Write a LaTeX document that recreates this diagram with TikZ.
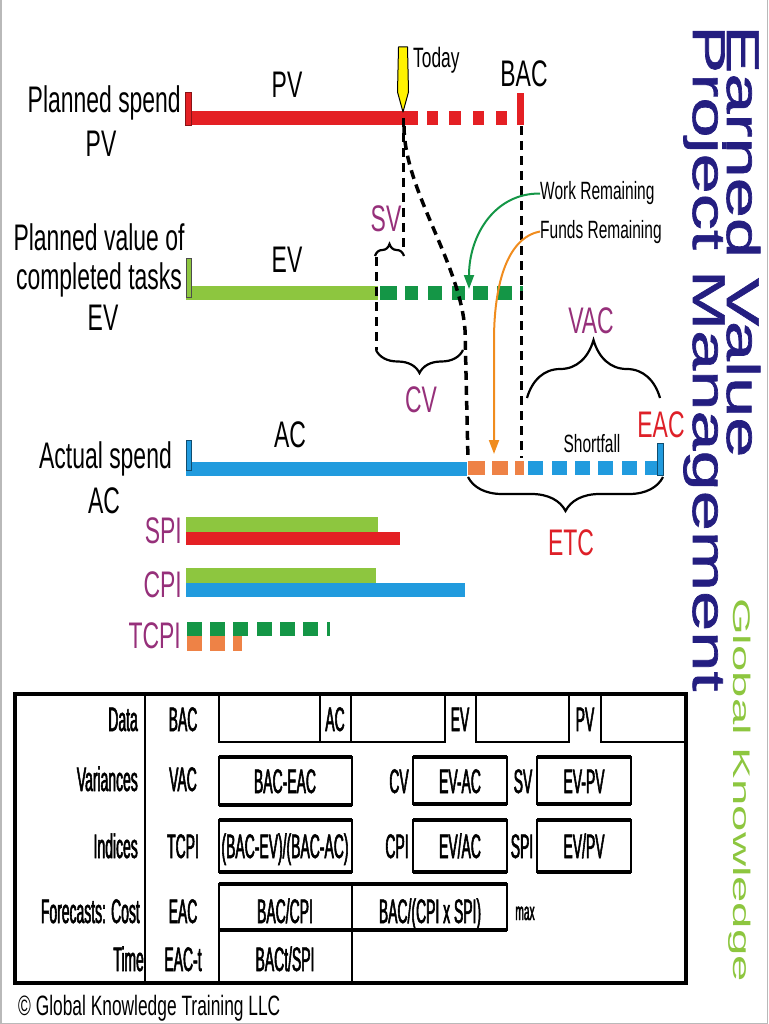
\documentclass[tikz,border=0pt]{standalone}
\usepackage{fontspec}
\setmainfont{Liberation Sans}
\newfontfamily\nar[FakeStretch=0.62]{Liberation Sans}
\newfontfamily\tnar[FakeStretch=0.41, FakeBold=1.6]{Liberation Sans}
\newfontfamily\wideF[FakeStretch=1.57, FakeBold=1.5]{Liberation Sans}
\newfontfamily\gkF[FakeStretch=1.97]{Liberation Sans}
\usetikzlibrary{decorations.pathreplacing,arrows.meta}
\definecolor{pvred}{RGB}{228,32,36}
\definecolor{evlight}{RGB}{141,198,63}
\definecolor{evdark}{RGB}{20,150,70}
\definecolor{acblue}{RGB}{33,155,222}
\definecolor{etcorange}{RGB}{238,130,70}
\definecolor{lblpurple}{RGB}{150,48,122}
\definecolor{titlenavy}{RGB}{36,30,128}
\definecolor{arroworange}{RGB}{240,140,30}
\definecolor{txtred}{RGB}{222,32,40}
\tikzset{
  lbl/.style={font=\nar\fontsize{37}{40}\selectfont, inner sep=0pt, anchor=base},
  smalllbl/.style={font=\nar\fontsize{25}{28}\selectfont, inner sep=0pt, anchor=base west},
  tbl/.style={font=\tnar\fontsize{34}{36}\selectfont, inner sep=0pt, anchor=base},
  vdash/.style={black, line width=3pt, dash pattern=on 9pt off 6pt},
  brc/.style={decorate, decoration={brace, amplitude=#1}, line width=2.2pt, black},
  tline/.style={black, line width=2.5pt},
  tbox/.style={black, line width=2.5pt},
  arr/.style={line width=2pt, -{Triangle[length=14pt,width=10pt]}}
}
\begin{document}
\begin{tikzpicture}[x=1pt,y=-1pt]
\useasboundingbox (0,0) rectangle (768,1024);
\draw[gray!55, line width=1.5pt] (0.75,0) -- (0.75,1023.25) -- (767.25,1023.25) -- (767.25,0);

% ---------- PV bar ----------
\fill[pvred] (186,111) rectangle (401,125);
\filldraw[fill=pvred, draw=pvred!60!black, line width=0.8pt] (185.5,92) rectangle (191.5,125);
\foreach \a/\b in {401/418,427/438,449/461,473/484,496/507}
  \fill[pvred] (\a,111) rectangle (\b,125);
\fill[pvred] (517,93) rectangle (524,125);

% ---------- EV bar ----------
\fill[evlight] (186,286) rectangle (378,300);
\filldraw[fill=evlight, draw=black!70, line width=0.8pt] (186.5,258) rectangle (191.5,297);
\foreach \a/\b in {380/397,405/418,428/442,452/465,473/488,497/512,520/523}
  \fill[evdark] (\a,286) rectangle (\b,300);

% ---------- AC bar ----------
\fill[acblue] (186,462) rectangle (467,476);
\filldraw[fill=acblue, draw=acblue!50!black, line width=0.8pt] (186.5,440) rectangle (191.5,470);
\foreach \a/\b in {468/485,492/508,515/524}
  \fill[etcorange] (\a,461) rectangle (\b,475);
\foreach \a/\b in {528/543,552/567,575/590,598/613,622/637,645/657}
  \fill[acblue] (\a,461) rectangle (\b,475);
\filldraw[fill=acblue, draw=acblue!50!black, line width=0.8pt] (657,443) rectangle (663,475);

% ---------- index bars ----------
\fill[evlight] (186,517) rectangle (378,532);
\fill[pvred] (186,532) rectangle (400,545);
\fill[evlight] (186,568) rectangle (376,583);
\fill[acblue] (186,583) rectangle (465,597);
\foreach \a/\b in {187/202,210/225,233/248,257/272,280/295,303/318,327/330}
  \fill[evdark] (\a,622) rectangle (\b,636);
\foreach \a/\b in {187/202,210/225,233/242}
  \fill[etcorange] (\a,636) rectangle (\b,651);

% ---------- dashed guide lines ----------
\coordinate (todayTip) at (403,112);
\draw[vdash] (403,118) -- (403,252);
\draw[vdash] (376,257) -- (376,350);
\draw[vdash, line width=3.5pt] (404,126) .. controls (404,190) and (460,262) .. (465,330) -- (468,460);
\draw[vdash] (521,126) -- (521,458);

% ---------- Today marker ----------
\filldraw[fill=yellow, draw=black, line width=1pt, line join=round]
  (398.5,47) -- (407.5,47) -- (408.5,92) -- (todayTip) -- (397.5,92) -- cycle;

% ---------- braces ----------
\draw[brc=12pt] (375,256) -- (404,256);
\draw[brc=23pt] (463,350) -- (376,350);
\draw[brc=58pt] (527,398) -- (660,398);
\draw[brc=34pt] (663,477) -- (468,477);

% ---------- labels ----------
\node[lbl, anchor=base east] (ps) at (181,113) {Planned spend};
\node[lbl] (psPV) at (101,157) {PV};
\node[lbl] (pvTop) at (287,98) {PV};
\node[lbl] (pvc1) at (99,250) {Planned value of};
\node[lbl] (pvc2) at (99,289) {completed tasks};
\node[lbl] (pvc3) at (103,330) {EV};
\node[lbl] (evTop) at (287,272) {EV};
\node[lbl, anchor=base east] (as) at (172,468) {Actual spend};
\node[lbl] (asAC) at (104,513) {AC};
\node[lbl] (acTop) at (290,447) {AC};
\node[lbl] (bac) at (524,87) {BAC};
\node[lbl, lblpurple] (sv) at (386,232) {SV};
\node[lbl, lblpurple] (cv) at (421,412) {CV};
\node[lbl, lblpurple] (vac) at (591,333) {VAC};
\node[lbl, txtred] (eac) at (661,437) {EAC};
\node[lbl, txtred] (etc) at (571,555) {ETC};
\node[lbl, lblpurple, anchor=base east] (spi) at (182,543) {SPI};
\node[lbl, lblpurple, anchor=base east] (cpi) at (182,597) {CPI};
\node[lbl, lblpurple, anchor=base east] (tcpi) at (181,648) {TCPI};
\node[smalllbl, font=\nar\fontsize{28}{30}\selectfont] (today) at (413,68) {Today};
\node[smalllbl] (wr) at (540,200) {Work Remaining};
\node[smalllbl] (fr) at (540,238) {Funds Remaining};
\node[smalllbl, anchor=base] (sf) at (592,452) {Shortfall};

% ---------- arrows ----------
\coordinate (wrEnd) at (469,289);
\coordinate (frEnd) at (494,454);
\draw[arr, evdark] (wr.west) .. controls (495,193) and (469,235) .. (wrEnd);
\draw[arr, arroworange] (fr.west) .. controls (505,238) and (494,290) .. (494,340) -- (frEnd);

% ---------- title ----------
\node[font=\wideF\fontsize{46}{50}\selectfont, titlenavy, rotate=-90, anchor=base west, inner sep=0pt] (t1) at (727,25) {Earned Value};
\node[font=\wideF\fontsize{46}{50}\selectfont, titlenavy, rotate=-90, anchor=base west, inner sep=0pt] (t2) at (693,25) {Project Management};
\node[font=\gkF\fontsize{24}{26}\selectfont, evlight, rotate=-90, anchor=base west, inner sep=0pt] (gk) at (733,598) {Global Knowledge};

% ---------- table ----------
\draw[black, line width=4pt] (15,694) rectangle (686,983);
\draw[tline] (145,694) -- (145,983);
\draw[tline] (219,694) -- (219,742) -- (445,742) -- (445,694);
\draw[tline] (320,694) -- (320,742);
\draw[tline] (351,694) -- (351,742);
\draw[tline] (476,694) -- (476,742) -- (569,742) -- (569,694);
\draw[tline] (601,694) -- (601,742) -- (686,742);
\foreach \l/\t/\r/\b in {219/757/352/805, 413/757/507/804, 537/757/631/804,
                          219/820/352/872, 413/820/507/872, 537/820/631/872,
                          219/884/507/930}{
  \draw[tbox] (\l,\t) rectangle (\r,\b);
  \draw[black, line width=3.5pt] (\l,\t) -- (\r,\t);
  \draw[black, line width=3.5pt] (\l,\b) -- (\r,\b);
}
\draw[tline] (219,930) -- (219,983);
\draw[tline] (352,884) -- (352,983);

\node[tbl, anchor=base east] (tData) at (138,731) {Data};
\node[tbl, anchor=base east] (tVar) at (138,791) {Variances};
\node[tbl, anchor=base east] (tInd) at (138,858) {Indices};
\node[tbl, anchor=base east] (tFc) at (140,923) {Forecasts: Cost};
\node[tbl, anchor=base east] (tTime) at (144,971) {Time};
\node[tbl] (tBAC) at (183,731) {BAC};
\node[tbl] (tVAC) at (183,791) {VAC};
\node[tbl] (tTCPI) at (183,858) {TCPI};
\node[tbl] (tEAC) at (183,923) {EAC};
\node[tbl] (tEACt) at (183,971) {EAC-t};
\node[tbl] (tAC) at (335,731) {AC};
\node[tbl] (tEV) at (460,731) {EV};
\node[tbl] (tPV) at (585,731) {PV};
\node[tbl] (fVAC) at (285,793) {BAC-EAC};
\node[tbl] (tCV) at (399,793) {CV};
\node[tbl] (fCV) at (460,793) {EV-AC};
\node[tbl] (tSV) at (523,793) {SV};
\node[tbl] (fSV) at (584,793) {EV-PV};
\node[tbl] (fTCPI) at (285,858) {(BAC-EV)/(BAC-AC)};
\node[tbl] (tCPI) at (397,858) {CPI};
\node[tbl] (fCPI) at (460,858) {EV/AC};
\node[tbl] (tSPI) at (522,858) {SPI};
\node[tbl] (fSPI) at (584,858) {EV/PV};
\node[tbl] (fEAC1) at (285,923) {BAC/CPI};
\node[tbl] (fEAC2) at (430,923) {BAC/(CPI x SPI)};
\node[tbl, font=\tnar\fontsize{25}{27}\selectfont] (tmax) at (525,920) {max};
\node[tbl] (fEACt) at (285,971) {BACt/SPI};

\node[font=\nar\fontsize{28}{30}\selectfont, anchor=base west, inner sep=0pt] (copy) at (18,1015) {© Global Knowledge Training LLC};
\end{tikzpicture}
\end{document}
